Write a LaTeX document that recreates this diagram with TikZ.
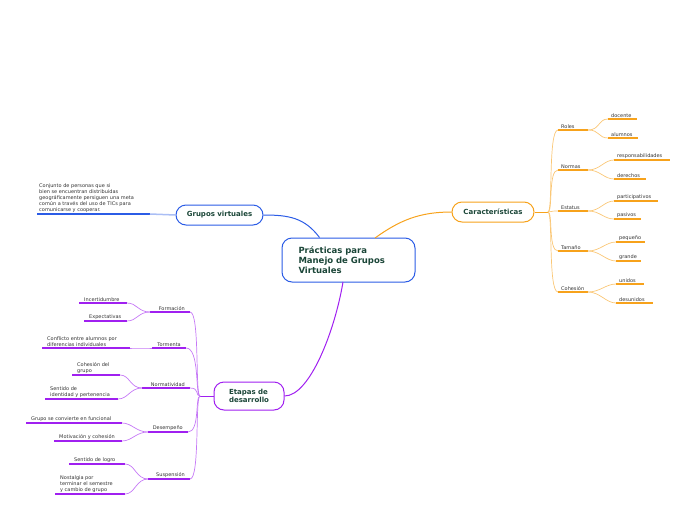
\documentclass[tikz,border=0pt]{standalone}
\usepackage{fontspec}
\setmainfont{DejaVu Sans}
\definecolor{cb}{HTML}{2B5CE6}
\definecolor{co}{HTML}{F7A21B}
\definecolor{cp}{HTML}{A020F0}
\definecolor{tx}{HTML}{333333}
\definecolor{tg}{HTML}{1B4638}
\tikzset{
 lbl/.style={inner sep=1pt,anchor=south west,text=tx,font=\fontsize{5}{6}\selectfont,align=left},
 lblr/.style={lbl,anchor=south east,align=left},
 main/.style={draw,rounded corners=10pt,line width=1pt,fill=white,text=tg,font=\bfseries\fontsize{7}{8.5}\selectfont,align=left},
}
% \lf{name}{x1}{x2}{y}{text}{color}{anchorx}
\newcommand{\lf}[7]{\coordinate (#1-l) at (#2,#4); \coordinate (#1-r) at (#3,#4);
 \draw[#6,line width=1.2pt] (#1-l) -- (#1-r);
 \node[lbl] (#1) at (#7,#4) {#5};}
\begin{document}
\begin{tikzpicture}[x=1pt,y=-1pt]
\useasboundingbox (0,0) rectangle (697,520);
% central
\node[main,draw=cb,minimum width=133pt,minimum height=44pt,text width=100pt,font=\bfseries\fontsize{8.5}{10}\selectfont] (c) at (348.5,260) {Prácticas para\\Manejo de Grupos\\Virtuales};
% Grupos virtuales
\node[main,draw=cb,minimum width=87pt,minimum height=20pt,align=center] (g) at (219.5,215) {Grupos virtuales};
\draw[cb,line width=1pt] (c.north west)++(38,0) coordinate (cg) .. controls +(-15,-20) and +(25,0) .. (g.east);
\lf{gd}{37}{150}{214}{Conjunto de personas que si\\bien se encuentran distribuidas\\geográficamente persiguen una meta\\común a través del uso de TICs para\\comunicarse y cooperar.}{cb}{38}
\draw[cb!40,line width=1.5pt] (gd-r) -- (g.west);
% Caracteristicas
\node[main,draw=co,minimum width=82pt,minimum height=20pt,align=center] (k) at (493,212) {Características};
\draw[co,line width=1pt] (375,238) .. controls (400,220) and (420,212) .. (k.west);
\coordinate (kt) at (548,212);
\draw[co,line width=1pt] (k.east) -- (kt);
\foreach \n/\t/\y in {r/Roles/130,n/Normas/170,e/Estatus/211,t/Tamaño/251,h/Cohesión/292}{
 \lf{\n}{558}{588}{\y}{\t}{co}{560}
 \draw[co!60,line width=0.7pt] (kt) .. controls (553,212) and (548,\y) .. (\n-l);
}
\foreach \p/\n/\t/\y/\a/\b in {r/a1/docente/119/608/637, r/a2/alumnos/138/608/638,
 n/b1/responsabilidades/160/614/670, n/b2/derechos/179/614/646,
 e/c1/participativos/201/614/658, e/c2/pasivos/219/614/641,
 t/d1/pequeño/242/616/645, t/d2/grande/261/616/641,
 h/e1/unidos/284/616/644, h/e2/desunidos/303/616/653}{
 \lf{\n}{\a}{\b}{\y}{\t}{co}{\a+2}
 \draw[co!60,line width=0.7pt] (\p-r) .. controls +(12,0) and +(-10,0) .. (\n-l);
}
% Etapas
\node[main,draw=cp,minimum width=70pt,minimum height=28pt,align=left] (s) at (249,396) {Etapas de\\desarrollo};
\draw[cp,line width=1pt] (343,282) .. controls (335,330) and (310,396) .. (s.east);
\coordinate (st) at (200,396);
\draw[cp,line width=1pt] (s.west) -- (st);
\foreach \n/\t/\y/\a/\b in {f/Formación/312/150/190, m/Tormenta/348/152/186, o/Normatividad/388/142/190, d/Desempeño/432/148/188, u/Suspensión/479/148/190}{
 \coordinate (\n-l) at (\a,\y); \coordinate (\n-r) at (\b,\y);
 \draw[cp,line width=1.2pt] (\n-l) -- (\n-r);
 \node[lblr] (\n) at (\b-4,\y) {\t};
 \draw[cp!60,line width=0.7pt] (st) .. controls (195,396) and (200,\y) .. (\n-r);
}
\foreach \p/\n/\t/\y/\a/\b in {f/l1/Incertidumbre/303/79/127, f/l2/Expectativas/321/84/127,
 m/l3/{Conflicto entre alumnos por\\diferencias individuales}/348/42/130,
 o/l4/{Cohesión del\\grupo}/375/72/120, o/l5/{Sentido de\\identidad y pertenencia}/399/45/118,
 d/l6/Grupo se convierte en funcional/423/26/122, d/l7/Motivación y cohesión/441/54/122,
 u/l8/Sentido de logro/464/69/125, u/l9/{Nostalgia por\\terminar el semestre\\y cambio de grupo}/494/55/125}{
 \coordinate (\n-l) at (\a,\y); \coordinate (\n-r) at (\b,\y);
 \draw[cp,line width=1.2pt] (\n-l) -- (\n-r);
 \node[lbl] (\n) at (\a+4,\y) {\t};
 \draw[cp!60,line width=0.7pt] (\p-l) .. controls +(-12,0) and +(10,0) .. (\n-r);
}
\end{tikzpicture}
\end{document}
